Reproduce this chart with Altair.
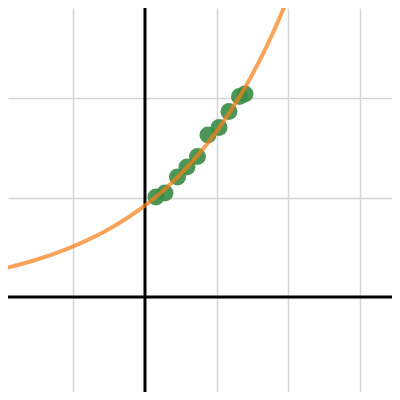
import altair as alt
import pandas as pd

# data (grid units)
xs = [0.154, 0.279, 0.454, 0.587, 0.733, 0.880, 1.034, 1.173, 1.320, 1.397]
ys = [1.007, 1.047, 1.208, 1.309, 1.415, 1.631, 1.707, 1.868, 2.019, 2.044]
x_grid = [-2, -1, 0, 1, 2, 3]
y_grid = [-1, 0, 1, 2]

df = pd.DataFrame({"x": xs, "y": ys})

x_dom = [-1.913, 3.450]
y_dom = [-0.957, 2.910]

xs_scale = alt.Scale(domain=x_dom, nice=False, zero=False)
ys_scale = alt.Scale(domain=y_dom, nice=False, zero=False)

x_axis = alt.Axis(values=x_grid, grid=True, labels=False, ticks=False, domain=False, title=None,
                  gridColor="#d4d4d4", gridWidth=1.5)
y_axis = alt.Axis(values=y_grid, grid=True, labels=False, ticks=False, domain=False, title=None,
                  gridColor="#d4d4d4", gridWidth=1.5)

base = alt.Chart(df)

points = base.mark_circle(size=290, color="#388c46", opacity=0.9).encode(
    x=alt.X("x:Q", scale=xs_scale, axis=x_axis),
    y=alt.Y("y:Q", scale=ys_scale, axis=y_axis),
)

curve = base.transform_regression("x", "y", method="exp", extent=[-2.0, 3.6]).mark_line(
    color="#fa7e19", strokeWidth=4, opacity=0.72, clip=True
).encode(
    x=alt.X("x:Q", scale=xs_scale),
    y=alt.Y("y:Q", scale=ys_scale),
)

vaxis = alt.Chart(pd.DataFrame({"v": [0]})).mark_rule(color="black", strokeWidth=3).encode(
    x=alt.X("v:Q", scale=xs_scale)
)
haxis = alt.Chart(pd.DataFrame({"v": [0]})).mark_rule(color="black", strokeWidth=3).encode(
    y=alt.Y("v:Q", scale=ys_scale)
)

chart = alt.layer(vaxis, haxis, points, curve).properties(
    width=384, height=384, padding=0, autosize=alt.AutoSizeParams(type="none")
).configure_view(stroke=None)

chart.save("out.html", embed_options={"renderer": "svg", "actions": False})
